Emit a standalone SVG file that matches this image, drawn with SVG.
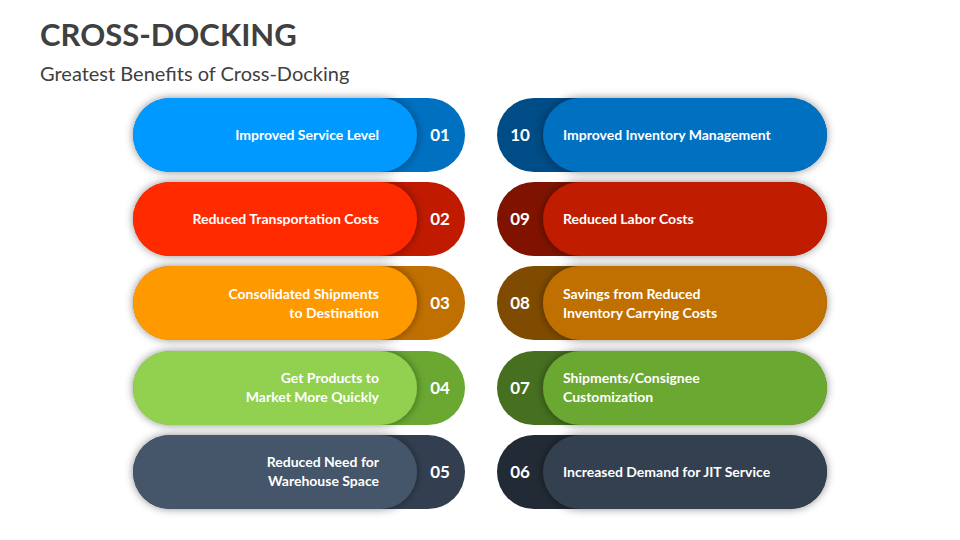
<svg xmlns="http://www.w3.org/2000/svg" width="960" height="540" viewBox="0 0 960 540">
<defs>
<style>
text{font-family:Lato,"Open Sans","Liberation Sans",sans-serif;fill:#fff;font-weight:bold}
.l{font-size:14px;text-anchor:end}
.r{font-size:14px}
.n{font-size:17px;text-anchor:middle}
</style>
<filter id="sh" x="-20%" y="-30%" width="140%" height="160%"><feDropShadow dx="0" dy="0" stdDeviation="4" flood-color="#000" flood-opacity="0.45"/></filter>
</defs>
<rect width="960" height="540" fill="#fff"/>
<text x="40" y="46" style="font-size:31px;fill:#404040">CROSS-DOCKING</text>
<text x="40" y="81" style="font-size:20px;fill:#404040;font-weight:normal">Greatest Benefits of Cross-Docking</text>
<g id="n01"><rect x="133" y="98" width="332" height="74" rx="37" fill="#0070C0"/><rect x="133" y="98" width="284" height="74" rx="37" fill="#0099FF" filter="url(#sh)"/><text class="l" x="379" y="140">Improved Service Level</text><text class="n" x="440" y="141">01</text></g>
<g id="n02"><rect x="133" y="182" width="332" height="74" rx="37" fill="#C01A00"/><rect x="133" y="182" width="284" height="74" rx="37" fill="#FF2A00" filter="url(#sh)"/><text class="l" x="379" y="224">Reduced Transportation Costs</text><text class="n" x="440" y="225">02</text></g>
<g id="n03"><rect x="133" y="266" width="332" height="74" rx="37" fill="#C07000"/><rect x="133" y="266" width="284" height="74" rx="37" fill="#FF9900" filter="url(#sh)"/><text class="l" x="379" y="299">Consolidated Shipments</text><text class="l" x="379" y="318">to Destination</text><text class="n" x="440" y="309">03</text></g>
<g id="n04"><rect x="133" y="351" width="332" height="74" rx="37" fill="#6AA832"/><rect x="133" y="351" width="284" height="74" rx="37" fill="#92D050" filter="url(#sh)"/><text class="l" x="379" y="383">Get Products to</text><text class="l" x="379" y="402">Market More Quickly</text><text class="n" x="440" y="394">04</text></g>
<g id="n05"><rect x="133" y="435" width="332" height="74" rx="37" fill="#333F50"/><rect x="133" y="435" width="284" height="74" rx="37" fill="#44546A" filter="url(#sh)"/><text class="l" x="379" y="467">Reduced Need for</text><text class="l" x="379" y="486">Warehouse Space</text><text class="n" x="440" y="478">05</text></g>
<g id="n10"><rect x="497" y="98" width="330" height="74" rx="37" fill="#004C87"/><rect x="543" y="98" width="284" height="74" rx="37" fill="#0070C0" filter="url(#sh)"/><text class="r" x="563" y="140">Improved Inventory Management</text><text class="n" x="520" y="141">10</text></g>
<g id="n09"><rect x="497" y="182" width="330" height="74" rx="37" fill="#7F1300"/><rect x="543" y="182" width="284" height="74" rx="37" fill="#C01A00" filter="url(#sh)"/><text class="r" x="563" y="224">Reduced Labor Costs</text><text class="n" x="520" y="225">09</text></g>
<g id="n08"><rect x="497" y="266" width="330" height="74" rx="37" fill="#7F4B00"/><rect x="543" y="266" width="284" height="74" rx="37" fill="#C07000" filter="url(#sh)"/><text class="r" x="563" y="299">Savings from Reduced</text><text class="r" x="563" y="318">Inventory Carrying Costs</text><text class="n" x="520" y="309">08</text></g>
<g id="n07"><rect x="497" y="351" width="330" height="74" rx="37" fill="#467020"/><rect x="543" y="351" width="284" height="74" rx="37" fill="#6AA832" filter="url(#sh)"/><text class="r" x="563" y="383">Shipments/Consignee</text><text class="r" x="563" y="402">Customization</text><text class="n" x="520" y="394">07</text></g>
<g id="n06"><rect x="497" y="435" width="330" height="74" rx="37" fill="#222A35"/><rect x="543" y="435" width="284" height="74" rx="37" fill="#333F50" filter="url(#sh)"/><text class="r" x="563" y="477">Increased Demand for JIT Service</text><text class="n" x="520" y="478">06</text></g>
<g id="connectors"/>
</svg>
